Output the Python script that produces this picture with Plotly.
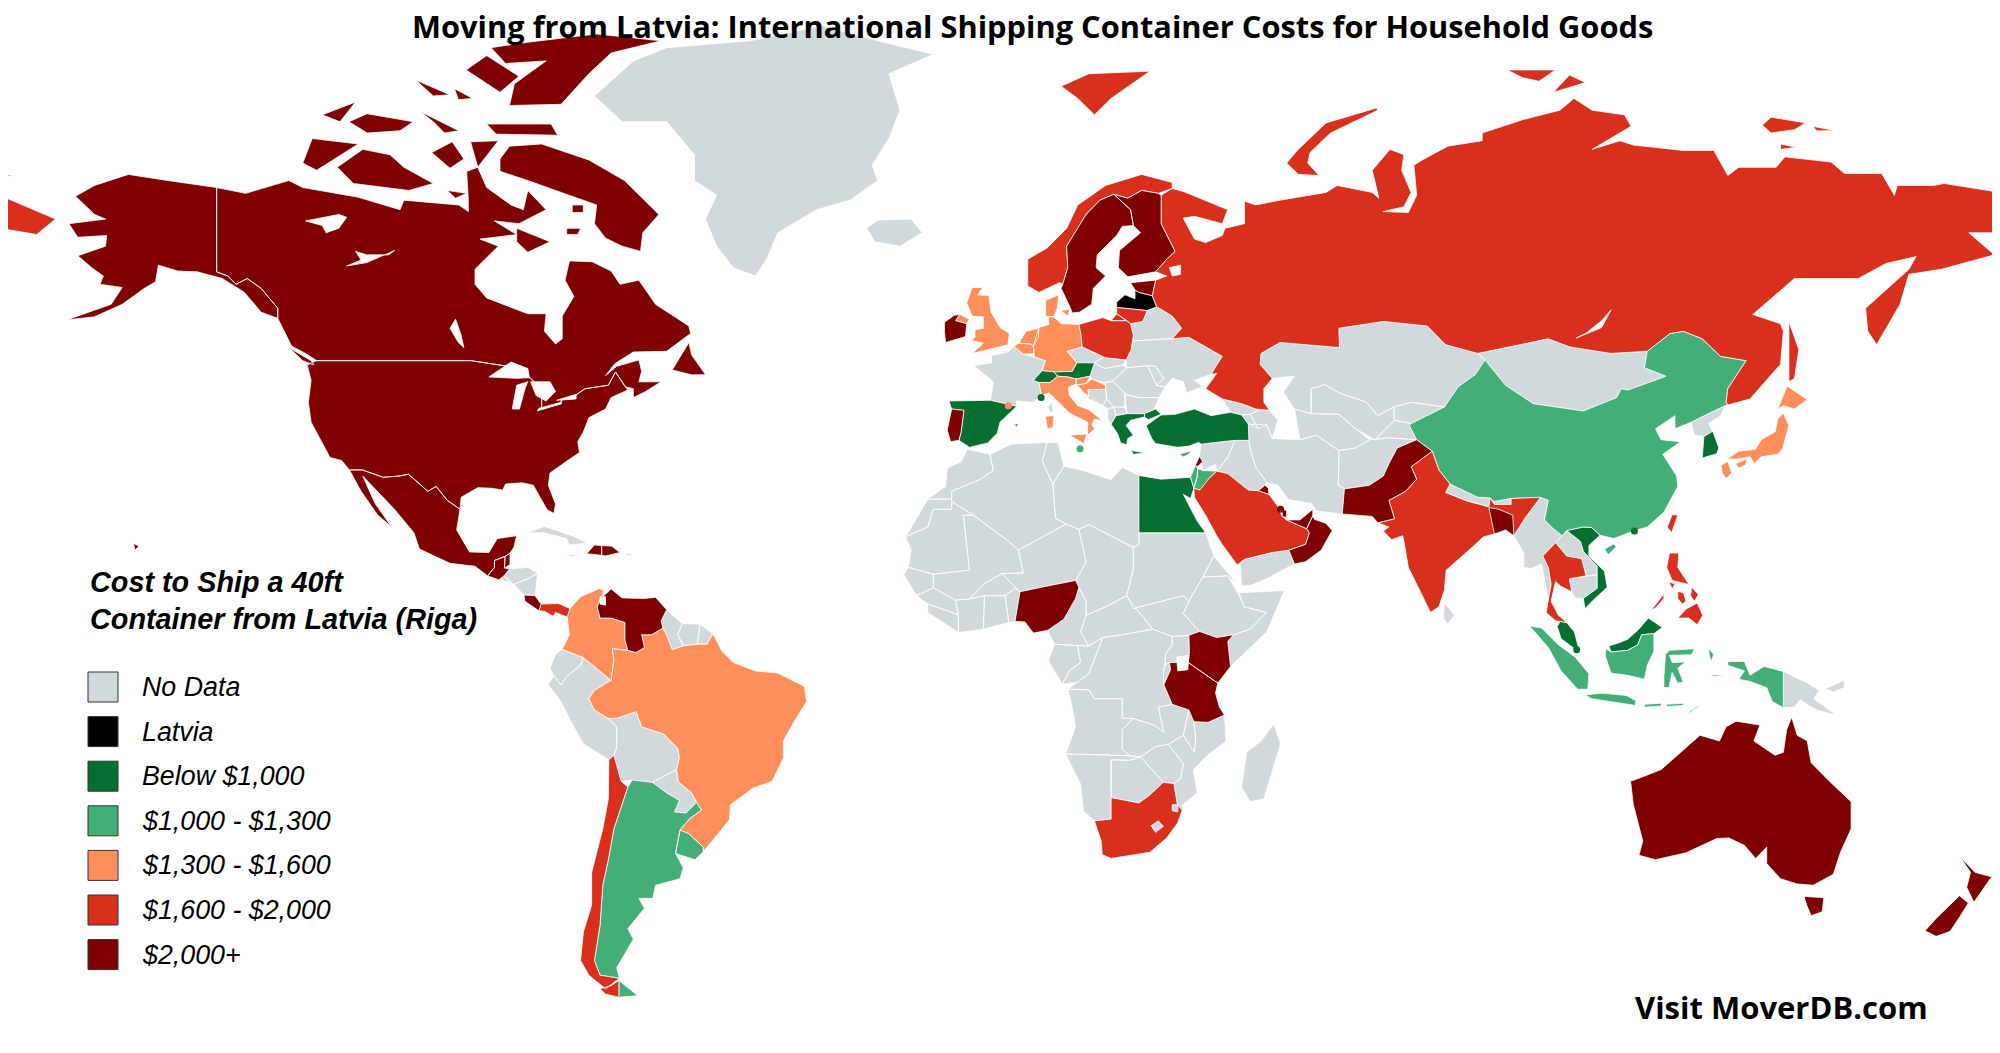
import numpy as np
import plotly.graph_objects as go

# the map files plotly fetches are out of reach here, so outlines are typed as (lon, lat)
# --- North America ---
canada = [(-141,69.8),(-135.8,69.2),(-128,70.5),(-125.5,69.8),(-115.5,68.8),(-108,67.5),(-107.3,68.5),(-97.4,68),(-95.7,67.3),(-95.7,68.5),(-96,71.4),(-94,71.8),(-92.4,69.8),(-90,68.8),(-88,68),(-85.8,67.5),(-85,69.5),(-81.7,67.5),(-86.6,66),(-91,66.3),(-87,64.8),(-93.6,64.3),(-90.3,63.5),(-94.5,60.8),(-94.5,59),(-92.4,57.3),(-85,55.3),(-81.7,55.3),(-82,53),(-80,51.3),(-78.8,52),(-78.8,55),(-76.7,57.5),(-78.3,59.5),(-77.5,61.8),(-73.4,61.7),(-70,60.6),(-68.4,59),(-65,59.5),(-62,56.5),(-56,53.7),(-55.7,52.7),(-60,50.3),(-66,50.2),(-69.3,48.6),(-71,46.9),(-69,48.2),(-65,49.1),(-64.5,47.5),(-65,46),(-61,46),(-64,44.5),(-66,43.7),(-66,45),(-67.5,45.3),(-69.2,47.4),(-70.5,45.5),(-74.7,45),(-76.5,44),(-79,43.3),(-79,42.8),(-82.5,42),(-82.5,45),(-84.5,46.5),(-88.5,48.2),(-95.2,49),(-123,49),(-125,50),(-127.5,51),(-130,54.7),(-130,56),(-133,58.5),(-135.5,59.7),(-137.5,59),(-139,60),(-141,60.5)]
baffin = [(-90,72.6),(-88.3,73.8),(-82.5,74),(-74,72.5),(-67.6,70.5),(-61.4,67),(-64.3,65),(-64.7,62.9),(-68,63.5),(-71,64.4),(-73,66),(-72.6,68),(-80,69.5),(-85,70.5),(-90,71.4)]
victoria_is = [(-119.3,71.8),(-114.7,73.5),(-109.8,73),(-107.3,71.8),(-102,70.2),(-106.4,69.5),(-116.4,70.2)]
banks = [(-125.5,72.2),(-123.8,74.5),(-115.5,74),(-123,71.5)]
ellesmere = [(-85,82.4),(-72.6,83),(-61,82.5),(-70,81.6),(-74,80),(-79,77.5),(-88.3,77.4),(-87.4,79.2),(-81.7,81),(-89,80.8),(-91.6,82)]
devon = [(-92.4,75.8),(-80.8,75.8),(-79.6,74.8),(-90.7,74.9)]
melville = [(-117.2,76),(-113.9,76.7),(-105.6,76),(-108,75.2),(-113.9,75)]
prince_patrick = [(-122,76.6),(-116,77.7),(-118.8,76)]
axel = [(-96.1,80.3),(-92.4,81.4),(-86.6,79.8),(-90,78.5)]
ringnes = [(-105.2,79.5),(-99,78.3),(-102,78.2)]
amund = [(-98.2,78.8),(-94.9,78),(-97.5,77.9)]
bathurst = [(-104.4,76.9),(-97.4,75.2),(-100,75),(-102,76)]
prince_wales = [(-102.3,73.2),(-98.6,74.2),(-96.5,72.6),(-99,71.7)]
somerset = [(-95.3,74.2),(-90.3,74.3),(-94,71.8)]
king_william = [(-99.5,69.5),(-96,69.2),(-98,68.7)]
southampton = [(-87,65.5),(-81,64),(-85,62.8),(-87,64)]
prince_charles = [(-77,68),(-75,68),(-75,67.2),(-77,67.2)]
mansel = [(-78,65.5),(-75.5,65.5),(-76,64.8),(-78,64.8)]
newfoundland = [(-59,47.7),(-56,51.5),(-55.5,49.8),(-53,47),(-55.5,47)]
vancouver = [(-128,50.8),(-124,49),(-123.5,48.4),(-125.5,49)]
usa = [(-124.7,48.4),(-123,49),(-95.2,49),(-88.5,48.2),(-84.5,46.5),(-82.5,45),(-82.5,42),(-79,42.8),(-79,43.3),(-76.5,44),(-74.7,45),(-70.5,45.5),(-69.2,47.4),(-67.5,45.3),(-67,44.8),(-70,43.7),(-71,42),(-74,40.7),(-75,38.5),(-76,37),(-75.7,35.3),(-78,33.9),(-81,32),(-81.3,30),(-80,26.9),(-80.3,25.3),(-81.5,25.9),(-82.8,28),(-84,30),(-86,30.4),(-89,30.2),(-89.5,29.2),(-91.5,29.5),(-94,29.6),(-97,28),(-97.2,26),(-99.5,27.5),(-101.5,29.8),(-103,29),(-104.8,30.5),(-106.5,31.8),(-108.2,31.5),(-111,31.3),(-114.8,32.5),(-117.1,32.5),(-118.5,34),(-120.6,34.5),(-122,36.8),(-124,40),(-124.5,43),(-124,46.2)]
alaska = [(-141,69.8),(-141,60.5),(-139,60),(-137.5,59),(-135.5,59.7),(-133,58.5),(-130,56),(-130,54.7),(-133,55.5),(-136,58),(-140,59.7),(-144.5,60.5),(-148,60.6),(-151.5,61.3),(-152,59.3),(-154,58.5),(-158,56.5),(-163,54.9),(-168,54.5),(-160,56.5),(-158,58.6),(-162,59),(-161.4,60),(-163.5,61),(-166,62.4),(-161,63.5),(-160.8,64.7),(-166,64.5),(-167.6,66),(-161,66.5),(-163,67),(-166.4,68.9),(-163,70),(-156.9,71.1),(-148.6,70.4)]
hawaii = [(-156,20.2),(-155,19.7),(-155.7,19)]
greenland = [(-73,78.2),(-66,81),(-60,82),(-45,82.5),(-32,83.6),(-22,82.5),(-12,81.5),(-20,80),(-18,77),(-20,74.5),(-23,72),(-22,70.5),(-27,68.5),(-33,67.5),(-40,65),(-42,62),(-44,60),(-48,61),(-51,63.5),(-53,66.5),(-51,69),(-55,70.5),(-55,73),(-60,76),(-68,76)]
iceland = [(-24,65.5),(-22,66.4),(-16,66.5),(-14,65),(-18,63.5),(-22.5,64)]
mexico = [(-117.1,32.5),(-114.8,32.5),(-111,31.3),(-108.2,31.5),(-106.5,31.8),(-104.8,30.5),(-103,29),(-101.5,29.8),(-99.5,27.5),(-97.2,26),(-97.8,22.5),(-95.5,18.7),(-92,18.6),(-90.5,21),(-87,21.5),(-87.5,19.5),(-88.2,18.5),(-89.1,17.9),(-91,17.2),(-91,16),(-92.2,14.5),(-94.5,16.2),(-99,16.7),(-104.5,19.2),(-105.5,22),(-109,26),(-112.5,29.5),(-114.7,31.5),(-112.5,27),(-109.5,23),(-112,25),(-115,29)]
guatemala = [(-92.2,14.5),(-91,16),(-91,17.2),(-89.1,17.9),(-89.2,15.9),(-88.3,15.7),(-89.3,14.5),(-90.2,13.8)]
belize = [(-89.1,17.9),(-88.2,18.5),(-88.2,16.5),(-89.2,15.9)]
salvador = [(-90.1,13.8),(-89.3,14.4),(-87.8,13.3)]
honduras = [(-89.3,14.5),(-88.3,15.7),(-85,16),(-83.2,15),(-85,14),(-87.5,13)]
nicaragua = [(-87.5,13),(-85,14),(-83.2,15),(-83.7,11),(-85.7,11.1)]
costa_rica = [(-85.7,11.1),(-83.7,11),(-82.6,9.5),(-83,8.3),(-85.5,10)]
panama = [(-83,8.3),(-82.6,9.5),(-79.5,9.6),(-77.4,8.7),(-77.9,7.2),(-80,8),(-80.4,7.3),(-82,8.2)]
cuba = [(-85,22),(-82,23.1),(-77,21.5),(-74.2,20.2),(-77.5,19.9),(-78,21),(-82,22)]
jamaica = [(-78.3,18.3),(-76.3,18.1),(-77,17.8)]
haiti = [(-74.4,18.4),(-73,19.9),(-71.7,19.8),(-71.7,18.1)]
dominican = [(-71.7,19.8),(-69.9,19.7),(-68.4,18.6),(-71,18),(-71.7,18.1)]
puerto_rico = [(-67.2,18.4),(-65.7,18.3),(-67.2,18)]

# --- South America ---
colombia = [(-77.4,8.7),(-75.5,10.8),(-72,12.3),(-71.3,11.8),(-72.5,9),(-72,7),(-70,7),(-67.5,6.2),(-67.5,3),(-67,1.2),(-69.8,1.5),(-69.5,-0.5),(-70,-4.2),(-72,-2.5),(-75,-0.1),(-78.8,1.4),(-77.5,4),(-77.9,7.2)]
venezuela = [(-71.3,11.8),(-71.5,10.8),(-70,12.2),(-68,10.6),(-64,10.5),(-62,10.7),(-60,8.5),(-61,6.5),(-60.7,5.2),(-62.7,4),(-64.5,4),(-64,1.7),(-65.5,0.8),(-67,1.2),(-67.5,3),(-67.5,6.2),(-70,7),(-72,7),(-72.5,9)]
guyana = [(-60,8.5),(-57.2,6),(-58,4),(-57,2),(-59,1.3),(-60,4),(-60.7,5.2),(-61,6.5)]
suriname = [(-57.2,6),(-54,5.9),(-54.5,2.3),(-57,2),(-58,4)]
fr_guiana = [(-54,5.9),(-51.7,4.2),(-52.7,2.3),(-54.5,2.3)]
ecuador = [(-78.8,1.4),(-75,-0.1),(-75.5,-1.5),(-78,-3.5),(-79,-5),(-80.3,-3.4),(-81,-2),(-80,0.5)]
peru = [(-75,-0.1),(-72,-2.5),(-70,-4.2),(-73,-6),(-74,-7.5),(-73,-9.5),(-70.6,-11),(-69,-12.5),(-69,-16.2),(-69.5,-17.5),(-70.4,-18.3),(-75,-15.5),(-77,-12),(-79,-8),(-81.3,-5),(-80.3,-3.4),(-79,-5),(-78,-3.5),(-75.5,-1.5)]
bolivia = [(-70.6,-11),(-69,-11),(-65.5,-9.8),(-64.5,-12.5),(-60.5,-13.8),(-58,-16.3),(-57.7,-18),(-58.2,-20),(-62.6,-22.2),(-66.2,-21.8),(-68.2,-22),(-69.5,-17.5),(-69,-16.2),(-69,-12.5)]
paraguay = [(-58.2,-20),(-57.9,-22.1),(-55.5,-24),(-54.6,-25.6),(-56.5,-27.4),(-58.6,-27.2),(-57.7,-25.3),(-60,-24),(-62.6,-22.2)]
chile = [(-70.4,-18.3),(-69.5,-17.5),(-68.2,-22),(-67,-23),(-69.5,-30),(-70.5,-35),(-71.5,-39),(-72,-45),(-73,-50),(-72,-52),(-68.5,-52.4),(-71,-53.8),(-74,-52),(-75.5,-50),(-75,-46),(-73.5,-42),(-73.5,-37),(-71.5,-30),(-70.5,-25)]
tierra_chile = [(-68.6,-52.7),(-68.6,-54.9),(-71,-54.5),(-72,-53.8),(-70,-53.4)]
argentina = [(-66.2,-21.8),(-62.6,-22.2),(-60,-24),(-57.7,-25.3),(-58.6,-27.2),(-56.5,-27.4),(-54.6,-25.6),(-53.7,-26.9),(-55.8,-28.3),(-57.6,-30.2),(-58.4,-34),(-57,-36.3),(-57.6,-38),(-62,-39),(-62.5,-41),(-65,-41),(-64,-42.5),(-67,-45.5),(-66,-47),(-69,-51),(-68.5,-52.4),(-72,-52),(-73,-50),(-72,-45),(-71.5,-39),(-70.5,-35),(-69.5,-30),(-67,-23)]
tierra_arg = [(-68.6,-52.7),(-65.2,-54.7),(-68.6,-54.9)]
uruguay = [(-57.6,-30.2),(-56,-30.8),(-53.4,-33),(-53.4,-33.7),(-54.9,-35),(-58.4,-34)]
brazil = [(-51.7,4.2),(-50,1),(-48,-1),(-44,-2.5),(-40,-2.9),(-35.2,-5.3),(-34.8,-8),(-37,-11.5),(-39,-15),(-39,-18),(-41,-22),(-44.5,-23.2),(-48.5,-26),(-48.7,-28.5),(-52,-32.2),(-53.4,-33.7),(-53.4,-33),(-56,-30.8),(-57.6,-30.2),(-55.8,-28.3),(-53.7,-26.9),(-54.6,-25.6),(-55.5,-24),(-57.9,-22.1),(-58.2,-20),(-57.7,-18),(-58,-16.3),(-60.5,-13.8),(-64.5,-12.5),(-65.5,-9.8),(-69,-11),(-70.6,-11),(-73,-9.5),(-74,-7.5),(-73,-6),(-70,-4.2),(-69.5,-0.5),(-69.8,1.5),(-67,1.2),(-65.5,0.8),(-64,1.7),(-64.5,4),(-62.7,4),(-60.7,5.2),(-60,4),(-59,1.3),(-57,2),(-54.5,2.3),(-52.7,2.3)]

# --- Europe ---
norway = [(5,58.8),(7,58),(10.7,59.2),(11.3,59),(12.2,61),(12,63.5),(14,65.5),(15.5,67),(18,68.5),(20.5,69.1),(23,68.7),(25.5,69.5),(28.5,69.2),(31,69.7),(31,70.3),(25.5,71.1),(19,70),(14,68),(12,65.5),(8.5,63.3),(5,62),(5,60)]
svalbard = [(11,79),(16,80),(27,80.2),(20,78),(17,76.6),(14,78)]
sweden = [(11.3,59),(11,58.5),(12.5,56.3),(13,55.4),(14.3,55.5),(16.5,56.5),(16.8,58.5),(19,60),(17.3,61),(17.5,62.5),(21,64.7),(22,65.7),(24,65.8),(23.5,67.5),(20.5,69.1),(18,68.5),(15.5,67),(14,65.5),(12,63.5),(12.2,61)]
finland = [(24,65.8),(25.3,65),(21.5,63),(21.3,61),(23,59.9),(28,60.5),(30,62),(31.5,62.9),(29,66),(29,69),(28.5,69.2),(25.5,69.5),(23,68.7),(20.5,69.1),(23.5,67.5)]
jutland = [(8.2,55),(8.2,57),(10.6,57.7),(10.3,56),(9.7,54.9)]
zealand = [(11,55.7),(12.6,55.9),(12.2,55)]
estonia = [(23.5,59.2),(28,59.5),(27.4,57.6),(25,58),(24.3,58.3)]
latvia_land = [(21,56.8),(22.5,57.7),(24.3,57.2),(24.3,58.3),(25,58),(27.4,57.6),(28.2,56.2),(26.5,55.7),(21,56.1)]
lithuania = [(21,56.1),(26.5,55.7),(25.7,54.3),(23.5,54),(22.8,54.4),(21,55.3)]
kaliningrad = [(20,54.4),(22.8,54.4),(21,55.3)]
poland = [(14.2,53.9),(18.5,54.8),(20,54.4),(22.8,54.4),(23.5,54),(24,52.5),(23.6,50.5),(22.7,49.1),(19,49.4),(14.8,50.9),(14.6,52.5)]
belarus = [(23.5,54),(25.7,54.3),(26.5,55.7),(28.2,56.2),(31,55),(32.7,53.4),(31,52),(24,51.7),(24,52.5)]
ukraine = [(24,51.7),(31,52),(34,52.2),(40,49.6),(38,47.1),(35,46.2),(36.5,45.3),(33.6,44.4),(33,46),(31,46.5),(29.7,45.3),(28.2,45.5),(29.5,46.5),(28,48.2),(26.5,48.3),(22.8,48),(22.7,49.1),(23.6,50.5)]
moldova = [(26.6,48.3),(28,48.2),(29.5,46.5),(28.2,45.5)]
germany = [(6,51),(7,53.5),(8.8,53.9),(8.7,54.9),(9.7,54.9),(11,54),(14.2,53.9),(14.6,52.5),(14.8,50.9),(12.1,50.3),(13.8,48.7),(13,47.5),(10,47.4),(7.6,47.6),(8.2,49),(6.2,49.5)]
netherlands = [(3.4,51.4),(4.7,53),(7,53.4),(6.9,52.2),(6,51),(5.5,51.3)]
belgium = [(2.5,51),(3.4,51.4),(5.5,51.3),(6,51),(6.1,50),(4.2,49.9)]
france = [(2.5,51),(4.2,49.9),(6.1,49.5),(8.2,49),(7.6,47.6),(6,46.2),(7,45.9),(7.5,44),(6,43),(3,43.2),(3,42.4),(-1.7,43.3),(-1.2,46),(-4.7,48.3),(-1.5,48.7),(-1.5,49.7),(1.5,50.2)]
corsica = [(8.6,42.3),(9.4,43),(9.5,41.5),(9.1,41.4)]
spain = [(-9.2,43.2),(-1.7,43.3),(3,42.4),(0,40),(-0.5,38.3),(-2.2,36.8),(-5.5,36.1),(-7.4,37.2),(-7,38.5),(-6.5,41.8),(-8.7,42)]
balearic = [(2.4,39.6),(3.3,39.8),(3.1,39.3)]
portugal = [(-8.7,42),(-6.5,41.8),(-7,38.5),(-7.4,37.2),(-8.9,37),(-9.5,38.8)]
britain = [(-5,50),(1.4,51.2),(1.7,52.7),(0,53.5),(-1.6,55.5),(-2,57.6),(-4,57.7),(-3.1,58.6),(-5,58.6),(-6,56.7),(-5,55),(-3,54.9),(-3,53.4),(-4.5,53.2),(-4.5,52.2),(-5.2,51.8),(-3,51.4)]
n_ireland = [(-7.3,55.2),(-5.5,54.6),(-6,54),(-8,54.4)]
ireland = [(-10,54.2),(-8.2,55.1),(-7.3,55.2),(-8,54.4),(-6,54),(-6.2,52.3),(-9.8,51.5),(-10,53)]
switzerland = [(6,46.2),(7.6,47.6),(9.6,47.5),(10.4,46.8),(9,45.9),(7,45.9)]
austria = [(9.6,47.5),(13,47.5),(13.8,48.7),(17,48.7),(16.2,46.8),(13.7,46.4),(12.2,46.7),(10.4,46.8)]
italy = [(7,45.9),(9,45.9),(10.4,46.8),(12.2,46.7),(13.7,46.4),(13.7,45.7),(12.3,45.2),(12.5,44),(14,42.5),(16,41.9),(18.5,40.2),(17,40.5),(16.5,39.6),(17.1,39),(15.7,38),(15.8,40),(12.5,41.4),(10.5,43),(8.8,44.4),(7.5,44)]
sicily = [(12.5,38),(15.6,38.2),(15.1,36.7)]
sardinia = [(8.2,40.9),(9.7,41),(9.5,39.2),(8.5,39)]
slovenia = [(13.7,46.4),(16.2,46.8),(15.6,45.8),(13.7,45.5)]
croatia = [(13.6,45.5),(15.6,45.8),(16.6,46.4),(19,45.5),(19,44.9),(15.8,44.9),(16,43.6),(18.5,42.5),(15,44.5),(14.3,45.2)]
czechia = [(12.1,50.3),(14.8,50.9),(16.5,50.2),(18.8,49.6),(17,48.7),(13.8,48.7)]
slovakia = [(17,48.7),(18.8,49.6),(19,49.4),(22.7,49.1),(22.1,48.4),(18.8,47.9)]
hungary = [(16.2,46.8),(17,48.7),(18.8,47.9),(22.1,48.4),(22.8,48),(20.3,46.1),(18.8,45.9),(16.6,46.4)]
romania = [(20.3,46.1),(22.8,48),(26.5,48.3),(28.2,45.5),(29.7,45.2),(28.6,43.7),(25,43.7),(22.6,44.2)]
bulgaria = [(22.4,44.2),(25,43.7),(28.6,43.7),(27.8,42),(26,41.3),(22.9,41.3)]
serbia = [(19,45.5),(18.8,45.9),(20.3,46.1),(22.6,44.2),(22.4,42.3),(20.5,42.3),(19.2,43.5),(19,44.9)]
bosnia = [(15.8,44.9),(19,44.9),(19.2,43.5),(18.5,42.5),(16,43.6)]
montenegro = [(18.5,42.5),(19.2,43.5),(20.5,42.3),(19.4,42)]
albania = [(19.4,42),(20.5,42.3),(20.9,41),(20,39.7),(19.4,40.5)]
macedonia = [(20.5,42.3),(22.4,42.3),(22.9,41.3),(20.9,41)]
greece = [(20,39.7),(20.9,41),(22.9,41.3),(26,41.3),(26,40.8),(23.5,40.3),(22.7,39.5),(24,38),(23,37.5),(22.8,36.5),(21.7,36.8),(21.2,38.2)]
crete = [(23.6,35.6),(26.3,35.2),(24,35)]
thrace = [(26,41.3),(28,42),(29,41.2),(26.7,40.4),(26,40.8)]
turkey = [(26.3,39.5),(29,41.1),(31.5,41.2),(35,42),(38,41),(41.5,41.5),(43.5,41.1),(44.7,39.7),(44.8,37.2),(42.3,37.2),(38,36.8),(36.2,36.6),(35.8,36.9),(34,36.3),(32,36.1),(30.5,36.3),(28,36.7),(27.3,37.5)]
cyprus = [(32.3,35),(34.5,35.6),(33.8,34.9),(33,34.6)]

# --- Russia and Central Asia ---
russia = [(38,47.1),(40,49.6),(34,52.2),(31,52),(32.7,53.4),(31,55),(28.2,56.2),(27.4,57.6),(28,59.5),(30,60),(28,60.5),(30,62),(31.5,62.9),(29,66),(29,69),(31,69.7),(33,69.4),(41,67.5),(40,66),(35,66.8),(33,66.6),(35,64.3),(37,63.9),(40,64.7),(40.5,65.5),(44,66),(44,68.4),(46,68),(50.4,68.5),(58.7,69.3),(60.7,70),(67,69.3),(68.2,68.7),(67,71.5),(70.2,73.5),(72.7,73),(72.3,71.5),(74,69.3),(72.7,67.8),(69,67.3),(73.5,67.2),(75,69),(74.5,72),(76,72.5),(80.6,73.8),(86.8,74.3),(86.8,75),(94.2,76.2),(100.8,77),(103.3,78),(106.6,77),(112.4,76.6),(113.6,75.6),(106.6,73.5),(111.6,74.3),(114,73.9),(123,73.4),(128.5,73.4),(131,71),(133,71.8),(139.7,71.8),(141.3,72.8),(149.6,72.3),(152,71.2),(158.7,71.2),(161,69),(161.5,70),(168,70),(170,70.2),(180,69.3),(180,65),(174.4,65),(179,62.5),(169.4,60.8),(163.6,60.2),(162,56.5),(157.8,51.2),(156.2,53),(155.8,56),(163.6,60.8),(164.9,62.3),(159.5,61.5),(154.5,59.7),(143,59.7),(135.5,55.2),(140.5,54),(141,53),(140.5,48.5),(135,43.5),(131,42.6),(130.7,43),(131,45),(134.3,49),(129.7,49.6),(126.4,52),(123,53),(120.6,52.7),(116.5,50.3),(110,50),(102.5,50.9),(98.7,52),(92.5,51),(86,50),(80.2,51.2),(76.9,53.7),(69,54.3),(61,53.4),(61.1,50.8),(50.4,51.5),(47,50),(46.8,48.5),(49,46.5),(47.5,45),(47.5,43),(48.5,41.8),(46,42),(43.5,42.8),(40,43.5),(37,45),(39,47.2)]
chukotka = [(-180,69),(-170,66.5),(-173.4,64.8),(-180,65.5)]
wrangel = [(-180,71.1),(-177.5,71),(-180,70.8)]
sakhalin = [(142,54.3),(143.8,50.5),(143,46.5),(142,46),(142,50)]
novaya = [(51.6,72.2),(53.7,73.5),(58.7,75.9),(67.8,77.2),(68,77),(59.5,75),(55.8,73.2),(55.4,72.2),(57.4,71),(53.7,71.1)]
severnaya_n = [(91.3,80.3),(100,80.3),(97,79.4),(94,79.7)]
severnaya_s = [(99.6,78.5),(102.5,79.9),(105.4,79.3)]
new_siberian = [(137.2,75.7),(138.8,76.4),(145,75.9),(143,75.3),(138.8,75)]
faddeyev = [(146.3,75.6),(150.4,75.2),(147,75.2)]
lyakhov = [(140.5,74),(143.4,73.7),(140.5,73.5)]
kazakhstan = [(47,50),(50.4,51.5),(61.1,50.8),(61,53.4),(69,54.3),(76.9,53.7),(80.2,51.2),(86,50),(87.3,49.1),(85.5,47),(82.5,45.3),(80,42.3),(74,43),(70.9,42.3),(68,41),(66,43),(61,44.4),(58.5,45.6),(56,45),(56,41.3),(53,42),(51,44.5),(53,46.8),(49,46.5),(46.8,48.5)]
uzbekistan = [(56,45),(58.5,45.6),(61,44.4),(66,43),(68,41),(70.9,42.3),(71,40.3),(67.5,37.3),(64,39),(61,41.2),(56,41.3)]
turkmenistan = [(53,42),(56,41.3),(61,41.2),(64,39),(66.5,37.3),(64,36),(61,35.6),(57,38),(54,37.3),(53.5,40)]
kyrgyzstan = [(70.9,42.3),(74,43),(80,42.3),(74,39.8),(71,40.3)]
tajikistan = [(67.5,37.3),(71,40.3),(74,39.8),(75,37.3),(70,37.6)]
georgia_c = [(40,43.5),(43.5,42.8),(46.5,41.8),(45,41.2),(43.5,41.1),(41.5,41.5)]
armenia = [(43.5,41.1),(45,41.2),(46.5,39),(44.7,39.7)]
azerbaijan = [(45,41.2),(46.5,41.8),(46,42),(48.5,41.8),(50,40.3),(49,37.5),(48,39.6),(46.5,39)]

# --- Middle East ---
afghanistan = [(61,35.6),(64,36),(66.5,37.3),(70,37.6),(75,37.3),(71.5,36),(70,33.5),(69,31.5),(66.5,30),(62,29.4),(60.9,30),(61,33)]
iran = [(44.7,39.7),(48,39.6),(49,37.5),(54,37.3),(57,38),(61,35.6),(61,33),(60.9,30),(62,29.4),(61.6,25.2),(57,25.7),(56,27),(52,27.6),(50,30),(48,30.5),(46,33),(45,36),(44.8,37.2)]
iraq = [(42.3,37.2),(44.8,37.2),(45,36),(46,33),(48,30.5),(47.7,30),(46.5,29.1),(44.7,29.2),(41,31.9),(39,32.3),(41,34.5)]
syria = [(36.2,36.6),(38,36.8),(42.3,37.2),(41,34.5),(39,32.3),(38.8,33.4),(36.5,32.4),(35.9,34.7)]
lebanon = [(35.1,33.1),(35.9,34.7),(36.5,33.8),(35.6,33.1)]
israel = [(34.3,31.3),(35.1,33.1),(35.6,33),(35.5,31.4),(34.9,29.5)]
jordan = [(35.6,32.7),(36.5,32.4),(39,32.3),(37.5,31),(37,29.2),(36,29.2),(34.9,29.5),(35.5,31.4)]
saudi = [(34.9,29.5),(36,29.2),(37.5,31),(39,32.3),(41,31.9),(44.7,29.2),(46.5,29.1),(48.4,28.5),(50,26.5),(50.8,24.8),(51.6,24.2),(55.2,22.7),(55.7,22),(55,20),(52,19),(49,18.6),(44,17.4),(43.2,16.7),(42.7,16.4),(40,20),(39,21.5),(37,25),(35,28)]
yemen = [(43.2,16.7),(44,17.4),(49,18.6),(52,19),(53,16.6),(48,14),(45,12.8),(43.5,12.7)]
oman = [(52,19),(55,20),(55.7,22),(55.2,22.7),(56.3,24.9),(56.6,24.3),(58.7,23.6),(59.8,22.4),(57.8,19),(55,17),(53,16.6)]
uae = [(51.6,24.2),(54,24.2),(56.3,26),(56.3,24.9),(55.2,22.7)]
qatar = [(50.8,24.8),(50.8,26),(51.6,25.8),(51.6,24.6)]
kuwait = [(46.5,29.1),(47.7,30),(48.3,29.5),(48.4,28.5)]

# --- Africa ---
egypt = [(25,31.6),(29,31),(32.5,31.2),(34.3,31.3),(34.9,29.5),(34.3,27.8),(33,28.5),(33.8,27),(35.5,24),(37,22),(25,22)]
libya = [(9.5,30.2),(11.5,33.1),(15,32.4),(20,30.9),(22,32.9),(25,31.6),(25,20),(24,19.5),(16,23.4),(14.2,22.6),(11.9,23.5),(10,24.5)]
tunisia = [(9.5,30.2),(11.5,33.1),(10.5,36.8),(8.5,36.9),(7.6,33.9)]
algeria = [(-1.8,35),(2,36.6),(8.5,36.9),(7.6,33.9),(9.5,30.2),(10,24.5),(11.9,23.5),(3.3,19),(1.2,20.8),(-4.8,25),(-8.7,27.3),(-8.7,29),(-3.7,30.9),(-1.2,32.4)]
morocco = [(-5.9,35.8),(-1.8,35),(-1.2,32.4),(-3.7,30.9),(-8.7,29),(-8.7,27.7),(-13,27.7),(-9.8,29.8),(-9.5,32.8),(-7,33.8)]
w_sahara = [(-13,27.7),(-8.7,27.7),(-8.7,26),(-12,26),(-13,23),(-17,21.3),(-15,24.5)]
mauritania = [(-17,21.3),(-13,23),(-12,26),(-8.7,26),(-8.7,27.3),(-4.8,25),(-6.6,25),(-5.5,15.5),(-12,14.8),(-16.5,16),(-16,19)]
mali = [(-4.8,25),(1.2,20.8),(3.3,19),(4.2,15),(0.3,14.9),(-3,13),(-5.5,10.4),(-8,10.2),(-12,12.4),(-12,14.8),(-5.5,15.5),(-6.6,25)]
niger = [(3.3,19),(11.9,23.5),(14.2,22.6),(15.5,16.9),(13.6,13.7),(9,12.8),(3.6,11.7),(0.3,14.9),(4.2,15)]
chad = [(14.2,22.6),(16,23.4),(24,19.5),(24,15.7),(22.8,11),(19,9),(15.5,7.5),(15.5,10),(14.2,12.5),(13.6,13.7),(15.5,16.9)]
sudan = [(24,19.5),(25,20),(25,22),(37,22),(38.5,18),(36.5,14.3),(34,10),(33,11),(27,9.5),(24,8.7),(22.8,11),(24,15.7)]
s_sudan = [(24,8.7),(27,9.5),(33,11),(34,10),(33,7.8),(35.9,4.6),(34,3.9),(31,3.7),(27.5,5),(24.5,8.7)]
eritrea = [(38.5,18),(43,12.7),(41,14.5),(36.5,14.3)]
ethiopia = [(36.5,14.3),(41,14.5),(42.8,11.5),(44,9),(48,8),(45,5),(42,4),(39,3.5),(35.9,4.6),(33,7.8),(34,10)]
somalia = [(43,11.5),(51.2,11.9),(48,4.5),(41.5,-1.7),(41,2.8),(42,4),(45,5),(48,8),(44,9)]
kenya = [(34,3.9),(35.9,4.6),(39,3.5),(42,4),(41,2.8),(41.5,-1.7),(39.2,-4.7),(33.9,-1),(34.1,1)]
tanzania = [(33.9,-1),(39.2,-4.7),(38.8,-6.5),(39.5,-9),(40.4,-10.4),(37.5,-11.7),(34.9,-11.6),(34,-9.5),(31,-8.5),(29.5,-5),(30.7,-2.3),(30.5,-1)]
uganda = [(31,3.7),(34,3.9),(34.1,1),(33.9,-1),(30.5,-1),(29.7,-1.4),(29.8,0.5),(31,2.2)]
nigeria = [(2.7,6.4),(3.6,11.7),(9,12.8),(13.6,13.7),(14.2,12.5),(13.6,10.5),(11.5,6.8),(8.6,4.8),(6,4.3),(4.5,6.3)]
cameroon = [(8.6,4.8),(11.5,6.8),(13.6,10.5),(14.2,12.5),(15.5,10),(15.5,7.5),(14.5,4.5),(16,2),(9.8,2.3)]
benin = [(1.6,6.2),(0.9,11),(2.8,12.3),(3.6,11.7),(2.7,6.4)]
ghana_togo = [(-3,5),(-2.8,11),(0.9,11),(1.6,6.2)]
burkina = [(-5.5,10.4),(-3,13),(0.3,14.9),(3.6,11.7),(2.8,12.3),(0.9,11),(-2.8,11)]
ivory = [(-7.5,4.4),(-7.5,7.6),(-8,10.2),(-5.5,10.4),(-2.8,11),(-3,5)]
guinea = [(-15,11),(-12,12.4),(-8,10.2),(-7.5,7.6),(-10,8.5),(-13,9.5)]
liberia = [(-13,9.5),(-10,8.5),(-7.5,7.6),(-7.5,4.4),(-13,8)]
senegal = [(-16.5,16),(-12,14.8),(-12,12.4),(-15,11),(-17.3,14.7)]
car = [(14.5,4.5),(15.5,7.5),(19,9),(22.8,11),(24.5,8.7),(27.5,5),(22,4),(18.5,3.5),(16,2)]
congo = [(11.2,-4.9),(14,-4.5),(16,-3),(18.5,3.5),(16,2),(14,2),(14.5,-1),(12.5,-2.5)]
gabon = [(9.8,2.3),(14,2),(14.5,-1),(12.5,-2.5),(11.2,-4.9),(8.7,-0.7)]
drc = [(12.2,-5.8),(16,-5.9),(17,-7.5),(22,-7.5),(22,-11),(24,-11),(28,-12.3),(29.5,-13.5),(28.5,-9),(31,-8.5),(29.5,-5),(29.4,-2.5),(29.7,-1.4),(29.8,0.5),(31,2.2),(31,3.7),(27.5,5),(22,4),(18.5,3.5),(16,-3),(14,-4.5)]
rwanda_burundi = [(29.4,-2.5),(29.7,-1.4),(30.5,-1),(30.7,-2.3),(29.5,-5)]
angola = [(12.2,-5.8),(16,-5.9),(17,-7.5),(22,-7.5),(22,-11),(24,-11),(22,-13),(22,-16.5),(23.3,-17.6),(18.5,-17.4),(11.8,-17.3),(13.6,-12.5),(13,-9)]
zambia = [(22,-13),(24,-11),(28,-12.3),(29.5,-13.5),(28.5,-9),(31,-8.5),(34,-9.5),(33,-14),(30.3,-15.6),(28,-16),(25.3,-17.8),(23.3,-17.6),(22,-16.5)]
malawi = [(34,-9.5),(34.9,-11.6),(35.2,-14.5),(35,-17),(33,-14)]
mozambique = [(34.9,-11.6),(37.5,-11.7),(40.4,-10.4),(40.7,-15),(37,-17.8),(34.8,-20),(35.5,-24),(32.9,-26),(32.8,-26.9),(31.9,-25.9),(31.3,-22.4),(32.5,-21.5),(33,-19),(30.3,-15.6),(33,-14),(35,-17),(35.2,-14.5)]
zimbabwe = [(25.3,-17.8),(28,-16),(30.3,-15.6),(33,-19),(32.5,-21.5),(31.3,-22.4),(29.4,-22.2),(26,-18.5)]
botswana = [(20,-18.3),(23.3,-18.4),(25.3,-17.8),(26,-18.5),(29.4,-22.2),(26.8,-24.5),(25,-25.7),(20,-24.8)]
namibia = [(11.8,-17.3),(18.5,-17.4),(23.3,-17.6),(25.3,-17.8),(23.3,-18.4),(20,-18.3),(20,-28.4),(17,-28.7),(15,-27),(14.5,-22.5)]
south_africa = [(17,-28.7),(20,-28.4),(20,-24.8),(25,-25.7),(26.8,-24.5),(29.4,-22.2),(31.3,-22.4),(31.9,-25.9),(32.8,-26.9),(32,-29),(30,-31.5),(27,-33.8),(25,-34.1),(20,-34.8),(18.4,-34.2),(18.2,-32)]
lesotho = [(27.2,-29.5),(28.5,-28.7),(29.4,-29.6),(28,-30.6)]
eswatini = [(31,-26),(32,-26),(32,-27.2),(31,-27)]
madagascar = [(49.3,-12),(50.5,-15.5),(47.5,-25),(45,-25.5),(43.5,-23),(44.4,-17),(47,-15)]

# --- Asia and Oceania ---
pakistan = [(61.6,25.2),(62,29.4),(66.5,30),(69,31.5),(70,33.5),(71.5,36),(75,37.3),(77.8,35.5),(74,33),(75,31),(73,29),(70,27.5),(71,24.4),(68,23.7),(67,24.8)]
india = [(68,23.7),(71,24.4),(70,27.5),(73,29),(75,31),(74,33),(77.8,35.5),(79,32.5),(81,30.2),(80.2,28.8),(84,27.4),(88,26.4),(88.2,27.9),(89,26.8),(92,26.8),(92,27.8),(97.3,28),(94.5,24.5),(92.5,21.5),(91,22.5),(89,21.8),(87,21.3),(85,19.5),(80.3,15.5),(80,12),(79,9),(77.5,8),(76,11),(73.5,16),(72.8,20),(72.5,21.5),(70.5,20.8),(69,22.3),(70,23)]
nepal = [(80.2,28.8),(81,30.2),(86,28),(88.2,27.9),(88,26.4),(84,27.4)]
bhutan = [(88.9,27.3),(92,27.8),(92,26.8),(89,26.8)]
bangladesh = [(88,26.3),(89.8,26),(92.3,25),(92.5,21.5),(91,22.5),(89,21.8),(88.5,24)]
sri_lanka = [(80,9.8),(81.8,7.5),(80.6,5.9),(79.8,7)]
china = [(73.7,39.5),(74,39.8),(80,42.3),(82.5,45.3),(85.5,47),(87.3,49.1),(91,45.5),(96,42.8),(105,41.7),(111,43.7),(111.8,45),(113,44.8),(119.9,46.8),(116,48),(116.5,50.3),(120.6,52.7),(123,53),(126.4,52),(129.7,49.6),(134.3,49),(131,45),(130.7,43),(131,42.6),(130.5,42.5),(128,41.5),(124.4,40),(121.5,39),(121.5,41),(118,39),(119,37.3),(122.5,37),(119.3,35),(121.8,31.5),(122,29.8),(119.5,25.5),(116.5,23),(114,22.3),(110.5,21),(108,21.6),(106.5,22.9),(105,23),(102,22.4),(101.2,21.5),(99.5,22.8),(98,24.2),(98.7,27.5),(97.3,28),(92,27.8),(88.9,27.3),(88.2,27.9),(86,28),(81,30.2),(79,32.5),(77.8,35.5),(75,37.3)]
hainan = [(108.8,19.2),(110.5,20.1),(110.9,19.6),(109.5,18.2)]
mongolia = [(87.3,49.1),(86,50),(92.5,51),(98.7,52),(102.5,50.9),(110,50),(116.5,50.3),(116,48),(119.9,46.8),(113,44.8),(111.8,45),(111,43.7),(105,41.7),(96,42.8),(91,45.5)]
n_korea = [(124.4,40),(128,41.5),(130.5,42.5),(129.7,41),(127.5,39.8),(128.3,38.6),(126.7,37.8),(125,38)]
s_korea = [(126.7,37.8),(128.3,38.6),(129.4,36),(129,35.1),(126.4,34.4),(126.6,37)]
honshu = [(130.9,34.3),(133,35.5),(136,35.8),(137,37.3),(139.5,38.5),(140,40.5),(141,41.4),(142,39.5),(140.9,36),(140,35),(137,34.6),(135.8,33.5),(135,34.6),(132.5,34.2)]
hokkaido = [(140,42),(141.7,45.4),(145.3,43.4),(143,42),(141,42.5)]
kyushu = [(129.8,33.2),(131,33.9),(131.7,32),(130.7,31.1),(130,32)]
shikoku = [(132.4,33.5),(134.5,34.3),(134.2,33.3),(133,32.8)]
taiwan = [(121,25.1),(122,25),(120.9,22),(120.1,23)]
luzon = [(120.5,18.5),(122.2,18.5),(122,16),(124,13),(121,13.7),(120,16)]
mindanao = [(122,7),(123.5,8.6),(125.5,9.7),(126.5,7.5),(125.5,5.8),(124,7)]
panay_negros = [(122,11.8),(123,11.5),(123.5,10),(122.8,9.5),(122,10.5)]
samar_leyte = [(124.5,12.5),(125.7,11.2),(125,10),(124.3,11)]
palawan = [(117.2,8.4),(119.5,11.3),(119.5,10.5),(118,8.8)]
mindoro = [(120.4,13.4),(121.5,13.1),(121,12.2)]
myanmar = [(92.5,21.5),(94.5,24.5),(97.3,28),(98.7,27.5),(98,24.2),(99.5,22.8),(101.2,21.5),(100,20.3),(97.7,18),(98.7,16),(99.2,13),(98.7,10.3),(98,14),(97.5,16.6),(95.5,15.8),(94.3,16),(94.3,18.5)]
thailand = [(97.7,18),(100,20.3),(102,18),(104.7,17.5),(105.5,14.5),(102.5,14),(102.9,11.7),(100.9,12.7),(100,13.5),(99.2,10),(100.5,7.5),(102,6.2),(100.8,6.4),(100,6.5),(98.3,8),(98.7,10.3),(99.2,13),(98.7,16)]
laos = [(100,20.3),(101.2,21.5),(102,22.4),(104.5,20.5),(105,18.8),(107.5,16.2),(107.5,14.7),(105.5,14.5),(104.7,17.5),(102,18)]
cambodia = [(102.5,14),(105.5,14.5),(107.5,14.7),(107.5,12.3),(105,10.5),(103.5,10.6),(102.9,11.7)]
vietnam = [(102,22.4),(105,23),(106.5,22.9),(108,21.6),(106,19.8),(106,18),(108.8,15.3),(109.3,12.5),(107,10.4),(105.3,8.7),(105,10.5),(107.5,12.3),(107.5,14.7),(107.5,16.2),(105,18.8),(104.5,20.5)]
malaya = [(100.8,6.4),(102,6.2),(103.4,4.5),(104.2,1.4),(103.4,1.5),(101,3.3),(100.3,5.5)]
sarawak_sabah = [(109.6,2),(111.3,2.5),(113,3.2),(115,5),(116.7,7),(119.2,5.3),(117.7,4.2),(115.5,4),(114.8,2.2),(113,1.2),(110,0.9)]
sumatra = [(95.3,5.6),(97.5,5.2),(100.5,2.2),(103.5,0),(106,-3),(105.8,-5.8),(104,-5.8),(101,-2.5),(98.7,1.7)]
java = [(105.3,-6.8),(108.5,-6.5),(112.7,-6.9),(114.4,-7.8),(114.4,-8.7),(110,-8),(106.5,-7.5)]
kalimantan = [(109,1.5),(110,0.9),(113,1.2),(114.8,2.2),(115.5,4),(117.7,4.2),(117.7,1),(116.5,-1.5),(116,-4),(113,-3.3),(110,-2.9),(109,0)]
sulawesi = [(119.8,0.5),(120.5,1.2),(125,1.5),(124.5,0.4),(120.5,0.3),(121,-1),(123.4,-0.9),(122,-2),(123,-4.5),(122,-4.7),(121,-2.8),(120.4,-5.5),(119.5,-5.5),(119.5,-3.5)]
papua = [(131,-0.8),(134,-0.8),(135,-3.3),(137.5,-1.7),(141,-2.6),(141,-9.1),(139,-8),(138,-5.5),(135,-4.4),(133,-4),(134,-2.5),(131,-1.5)]
png = [(141,-2.6),(145,-4.5),(147.5,-6),(146.5,-7.5),(150.7,-10.5),(147,-9.5),(144,-7.7),(143,-9),(141,-9.1)]
new_britain = [(148.5,-5.7),(152,-4.2),(152,-5.5),(150,-6.3)]
sumbawa = [(116,-8.5),(119,-8.3),(119,-8.8),(116,-9)]
flores = [(119.9,-8.5),(123,-8.3),(123,-8.7),(120,-8.9)]
timor = [(123.6,-10.3),(125,-9),(124.5,-9.8)]
east_timor = [(125,-9),(127,-8.4),(124.5,-9.8)]
halmahera = [(127.5,1.5),(128.5,0.5),(128,-0.8),(127.7,0.2)]
seram = [(127.8,-3.2),(130.7,-3.3),(128.5,-3.5)]
australia = [(113.5,-22),(114,-26),(115.7,-32),(115,-34.3),(118,-35),(123.5,-33.9),(129,-31.6),(131.2,-31.5),(134,-32.7),(136,-34.8),(138,-33),(138,-35.6),(140.5,-38),(143.5,-38.8),(146.4,-39),(150,-37.3),(151.3,-33.8),(153.2,-30),(153.2,-25.5),(149.5,-22.2),(146,-18.8),(145.3,-15),(143.5,-14),(142.5,-10.8),(141.6,-13),(141,-17),(139.5,-17.5),(135.7,-15),(136.8,-12.2),(132.5,-11.5),(130.7,-12.5),(129.5,-15),(126,-14),(122.2,-17.2),(119,-20),(115,-21.5)]
tasmania = [(144.7,-40.7),(148.3,-40.9),(148,-43),(146,-43.6),(145.2,-42)]
nz_north = [(172.7,-34.4),(175.5,-37),(178.5,-37.7),(177,-39.5),(175.3,-41.6),(174,-39.3),(174.7,-37)]
nz_south = [(172.7,-40.6),(174.3,-41.7),(172.8,-43.7),(171,-45.9),(168.5,-46.6),(166.5,-45.8),(168.5,-44)]

# --- lakes painted over the land ---
superior = [(-92,46.7),(-88,48.8),(-85,47.9),(-84.7,46.6),(-87,46.5)]
michigan = [(-87.8,42),(-87,45.5),(-85,46),(-85.5,45),(-86.5,42)]
huron = [(-84.5,46),(-81,46),(-80,44.6),(-81.7,43.2),(-83.5,44)]
erie = [(-83.3,41.7),(-79,42.8),(-79,43),(-83,42.1)]
ontario = [(-79.8,43.3),(-76.3,44.2),(-76.3,43.5)]
great_bear = [(-125,66.3),(-119,67),(-117.6,66.7),(-119,65.5),(-121.3,65),(-122,65.8)]
great_slave = [(-117.6,61.2),(-114,61.6),(-109,63),(-110,62.5),(-114,62.5),(-116,62.9),(-115,61.9)]
winnipeg = [(-99,53.4),(-98,54.6),(-97,52.5),(-96.5,50.8),(-97.5,51.5)]
baikal = [(103.7,52.1),(108.3,53.5),(110,55.8),(108.3,54.4),(105.4,52.7)]
ladoga = [(30.5,61),(32.5,61.3),(32.5,60.2),(31,60)]
maracaibo = [(-72,10.8),(-71,10.8),(-71,9.3),(-72,9.5)]
lake_victoria = [(31.8,0),(34,0.3),(33.8,-2.3),(32,-2.5)]

no_data = [greenland, iceland, salvador, honduras, nicaragua, cuba, jamaica, puerto_rico, guyana, suriname, fr_guiana, ecuador, peru, bolivia, paraguay, belarus, ukraine, moldova, france, corsica, czechia, slovakia, hungary, romania, bulgaria, serbia, bosnia, montenegro, albania, macedonia, kazakhstan, uzbekistan, turkmenistan, kyrgyzstan, tajikistan, georgia_c, armenia, azerbaijan, afghanistan, iran, iraq, syria, yemen, libya, tunisia, algeria, morocco, w_sahara, mauritania, mali, niger, chad, sudan, s_sudan, eritrea, ethiopia, somalia, uganda, cameroon, benin, ghana_togo, burkina, ivory, guinea, liberia, senegal, car, congo, gabon, drc, rwanda_burundi, angola, zambia, malawi, mozambique, zimbabwe, botswana, namibia, madagascar, sri_lanka, mongolia, n_korea, myanmar, laos, cambodia, png, new_britain, east_timor, nepal, bhutan]
home = [latvia_land]
below_1000 = [spain, balearic, austria, switzerland, greece, crete, thrace, turkey, egypt, vietnam, s_korea, malaya, sarawak_sabah]
from_1000 = [china, hainan, sumatra, java, kalimantan, sulawesi, papua, sumbawa, flores, timor, halmahera, seram, argentina, tierra_arg, uruguay, jordan, israel, cyprus]
from_1300 = [britain, n_ireland, germany, jutland, zealand, netherlands, belgium, italy, sicily, sardinia, slovenia, croatia, honshu, hokkaido, kyushu, shikoku, brazil, colombia]
from_1600 = [russia, chukotka, wrangel, sakhalin, novaya, severnaya_n, severnaya_s, new_siberian, faddeyev, lyakhov, kaliningrad, norway, svalbard, poland, lithuania, south_africa, saudi, india, thailand, luzon, mindanao, panay_negros, samar_leyte, palawan, mindoro, taiwan, chile, tierra_chile, panama]
above_2000 = [canada, baffin, victoria_is, banks, ellesmere, devon, melville, prince_patrick, axel, ringnes, amund, bathurst, prince_wales, somerset, king_william, southampton, prince_charles, mansel, newfoundland, vancouver, usa, alaska, hawaii, mexico, guatemala, belize, costa_rica, haiti, dominican, venezuela, nigeria, kenya, tanzania, australia, tasmania, nz_north, nz_south, ireland, portugal, sweden, finland, estonia, pakistan, oman, uae, qatar, kuwait, bangladesh, lebanon]
grey_on_top = [lesotho, eswatini]
lakes = [superior, michigan, huron, erie, ontario, great_bear, great_slave, winnipeg, baikal, ladoga, maracaibo, lake_victoria]

# tiny places the source marks with dots
dot_names = ["Andorra", "Monaco", "Malta", "Singapore", "Hong Kong", "Bahrain"]
dot_lon = [1.5, 7.4, 14.4, 103.8, 114.2, 50.5]
dot_lat = [42.5, 43.7, 35.9, 1.3, 22.3, 26.0]

legend_labels = ["No Data", "Latvia", "Below $1,000", "$1,000 - $1,300",
                 "$1,300 - $1,600", "$1,600 - $2,000", "$2,000+"]
legend_colors = ["#d2d9dc", "#000000", "#046f30", "#43ae77", "#fe8e5a", "#d9301e", "#7f0000"]
dot_colors = ["#fe8e5a", "#046f30", "#43ae77", "#046f30", "#046f30", "#7f0000"]

W, H = 2000, 1053
PAGE_MARGIN = 8  # the browser's body margin
EQUATOR_Y = 657
DEG_PX = W / 360


def miller(lat):
    rad = np.radians(np.asarray(lat, dtype=float))
    return np.degrees(1.25 * np.log(np.tan(np.pi / 4 + 0.4 * rad)))


def add_rings(fig, rings, color, line_color="white"):
    xs, ys = [], []
    for ring in rings:
        lon, lat = zip(*(ring + ring[:1]))
        xs += list(lon) + [None]
        ys += list(miller(lat)) + [None]
    fig.add_trace(go.Scatter(
        x=xs, y=ys, mode="lines", fill="toself", fillcolor=color,
        line=dict(color=line_color, width=0.8), hoverinfo="skip",
    ))


def px(x):
    return (x - PAGE_MARGIN) / W


def py(y):
    return 1 - (y - PAGE_MARGIN) / H


fig = go.Figure()

groups = [no_data, home, below_1000, from_1000, from_1300, from_1600, above_2000]
for rings, color in zip(groups, legend_colors):
    add_rings(fig, rings, color)
add_rings(fig, grey_on_top, legend_colors[0])
add_rings(fig, lakes, "white")

fig.add_trace(go.Scatter(
    x=dot_lon, y=miller(dot_lat), text=dot_names, mode="markers",
    marker=dict(size=7, color=dot_colors), hoverinfo="text",
))

fig.update_layout(
    width=W, height=H,
    margin=dict(l=0, r=0, t=0, b=0),
    paper_bgcolor="white", plot_bgcolor="white",
    showlegend=False,
    xaxis=dict(visible=False, fixedrange=True,
               range=[-180 + PAGE_MARGIN / DEG_PX, 180 + PAGE_MARGIN / DEG_PX]),
    yaxis=dict(visible=False, fixedrange=True,
               range=[(EQUATOR_Y - PAGE_MARGIN - H) / DEG_PX, (EQUATOR_Y - PAGE_MARGIN) / DEG_PX]),
)

fig.add_annotation(x=px(1032), y=py(26), xref="paper", yref="paper", showarrow=False,
                   xanchor="center", yanchor="middle",
                   text="<b>Moving from Latvia: International Shipping Container Costs for Household Goods</b>",
                   font=dict(family="Open Sans", size=30.8, color="black"))
fig.add_annotation(x=px(1781), y=py(1007), xref="paper", yref="paper", showarrow=False,
                   xanchor="center", yanchor="middle",
                   text="<b>Visit MoverDB.com</b>",
                   font=dict(family="Open Sans", size=31, color="black"))
fig.add_annotation(x=px(88), y=py(600), xref="paper", yref="paper", showarrow=False,
                   xanchor="left", yanchor="middle", align="left",
                   text="<b><i>Cost to Ship a 40ft<br>Container from Latvia (Riga)</i></b>",
                   font=dict(family="Liberation Sans", size=28.8, color="black"))

for i, (label, color) in enumerate(zip(legend_labels, legend_colors)):
    y0 = 672 + i * 44.6
    fig.add_shape(type="rect", xref="paper", yref="paper",
                  x0=px(88), x1=px(118), y0=py(y0), y1=py(y0 + 30),
                  fillcolor=color, line=dict(color="#333333", width=1))
    fig.add_annotation(x=px(140), y=py(y0 + 15), xref="paper", yref="paper", showarrow=False,
                       xanchor="left", yanchor="middle", text=f"<i>{label}</i>",
                       font=dict(family="Liberation Sans", size=26.8, color="black"))

fig.write_html("out.html")
